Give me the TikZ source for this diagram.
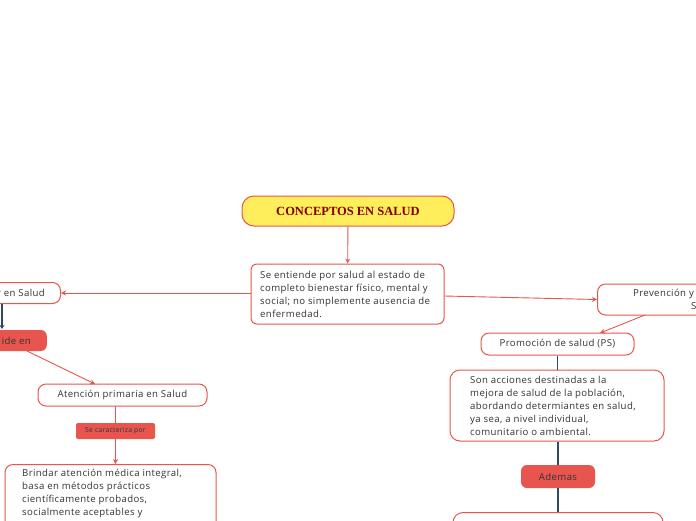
\documentclass[tikz,border=0pt]{standalone}
\usepackage{fontspec}
\setmainfont{Open Sans}[LetterSpace=4]
\newfontfamily\titlefont{Liberation Serif}
\usetikzlibrary{arrows.meta}
\definecolor{rd}{HTML}{E8554E}
\definecolor{dk}{HTML}{2E4A62}
\definecolor{tx}{HTML}{333333}
\definecolor{yl}{HTML}{FFEE5C}
\begin{document}
\begin{tikzpicture}[x=1pt,y=-1pt,
 box/.style={draw=rd,line width=1pt,rounded corners=8pt,fill=white,text=tx,font=\fontsize{9.6}{13}\selectfont,inner sep=0},
 txt/.style={text=tx,font=\fontsize{9.6}{13}\selectfont,inner sep=0},
 redbox/.style={fill=rd,rounded corners=6pt,text=tx,font=\fontsize{9.6}{12}\selectfont,inner sep=0},
 link/.style={draw=rd,line width=0.9pt,-{Stealth[length=5pt,width=5pt]}},
 dline/.style={draw=dk,line width=1.3pt}]
\useasboundingbox (0,0) rectangle (696,520);
\clip (0,0) rectangle (696,520);
\node[box,fill=yl,minimum width=212pt,minimum height=30pt,rounded corners=12pt,text=red!50!black,font=\titlefont\bfseries\fontsize{12.5}{15}\selectfont] (t) at (348,211) {CONCEPTOS EN SALUD};
\node[box,minimum width=193pt,minimum height=60pt,rounded corners=6pt] (d) at (347.5,294) {};
\node[txt,anchor=west,align=left] at (260,294) {Se entiende por salud al estado de\\completo bienestar físico, mental y\\social; no simplemente ausencia de\\enfermedad.};
\node[box,minimum width=120pt,minimum height=21pt,anchor=east] (l) at (61,293) {};
\node[txt,anchor=east] at (45,293) {r en Salud};
\node[redbox,minimum width=90pt,minimum height=21pt,anchor=east] (i) at (47,340.5) {};
\node[txt,anchor=east] at (31,340.5) {ide en};
\node[box,minimum width=169pt,minimum height=22pt] (a) at (122.5,395) {Atención primaria en Salud};
\node[fill=rd,rounded corners=2pt,minimum width=79pt,minimum height=16pt,inner sep=0,font=\fontsize{6.8}{9}\selectfont,text=tx] (c) at (115.5,431) {Se caracteriza por};
\node[box,minimum width=211pt,minimum height=100pt,anchor=north] (b) at (110.5,464) {};
\node[txt,anchor=north west,align=left] at (22,469) {Brindar atención médica integral,\\basa en métodos prácticos\\científicamente probados,\\socialmente aceptables y};
\node[box,minimum width=140pt,minimum height=31pt,anchor=west] (p) at (597,299.5) {};
\node[txt,anchor=north west,align=left] at (633,289) {Prevención y};
\node[txt,anchor=north west,align=left] at (691,302) {S};
\node[box,minimum width=153pt,minimum height=22pt] (ps) at (557.5,344) {Promoción de salud (PS)};
\node[box,minimum width=214pt,minimum height=71pt,rounded corners=10pt] (s) at (557,405.5) {};
\node[txt,anchor=west,align=left] at (470,405.5) {Son acciones destinadas a la\\mejora de salud de la población,\\abordando determiantes en salud,\\ya sea, a nivel individual,\\comunitario o ambiental.};
\node[redbox,minimum width=74pt,minimum height=23pt] (ad) at (558,476.5) {Ademas};
\node[box,minimum width=210pt,minimum height=40pt,anchor=north,rounded corners=10pt] (n) at (558,512) {};
\draw[link] (t) -- (d);
\draw[link] (d.west|-l.east) -- (l.east);
\draw[dline,-{Stealth[length=4pt,width=5pt]}] (2,303.5) -- (2,329);
\draw[link] (27,351) -- (95,384);
\draw[draw=rd,line width=0.9pt] (115.5,406) -- (c);
\draw[link] (c) -- (b.north-|c);
\draw[link] (d.east|-0,296) -- (p.west);
\draw[link] (645,315) -- (600,333);
\draw[dline] (ps.south) -- (s.north-|ps.south);
\draw[dline] (s.south-|ad) -- (ad);
\draw[dline] (ad) -- (n.north-|ad);
\end{tikzpicture}
\end{document}
